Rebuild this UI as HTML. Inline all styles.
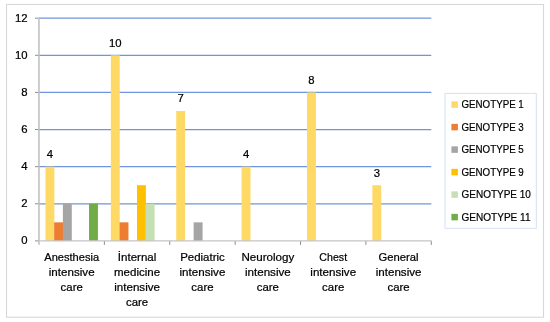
<!DOCTYPE html>
<html lang="en"><head><meta charset="utf-8"><title>Genotype distribution by intensive care unit</title>
<style>html,body{margin:0;padding:0;background:#fff}body{width:550px;height:322px;overflow:hidden}svg{display:block}text{font-family:"Liberation Sans",Arial,sans-serif;fill:#000;stroke:#000;stroke-width:0.22px}</style></head><body>
<svg width="550" height="322" viewBox="0 0 550 322">
<rect x="0" y="0" width="550" height="322" fill="#fff"/>
<rect x="6.5" y="4.5" width="537" height="312.7" fill="#fff" stroke="#d7d7d7" stroke-width="1.05"/>
<line x1="39.0" y1="203.78" x2="431.3" y2="203.78" stroke="#6f95da" stroke-width="1.2"/>
<line x1="39.0" y1="166.66" x2="431.3" y2="166.66" stroke="#6f95da" stroke-width="1.2"/>
<line x1="39.0" y1="129.54" x2="431.3" y2="129.54" stroke="#6f95da" stroke-width="1.2"/>
<line x1="39.0" y1="92.42" x2="431.3" y2="92.42" stroke="#6f95da" stroke-width="1.2"/>
<line x1="39.0" y1="55.30" x2="431.3" y2="55.30" stroke="#6f95da" stroke-width="1.2"/>
<line x1="39.0" y1="18.18" x2="431.3" y2="18.18" stroke="#6f95da" stroke-width="1.2"/>
<rect x="45.44" y="166.66" width="8.92" height="74.24" fill="#FFD966"/>
<rect x="54.16" y="222.34" width="8.92" height="18.56" fill="#ED7D31"/>
<rect x="62.87" y="203.78" width="8.92" height="37.12" fill="#A5A5A5"/>
<rect x="89.03" y="203.78" width="8.92" height="37.12" fill="#70AD47"/>
<rect x="110.82" y="55.30" width="8.92" height="185.60" fill="#FFD966"/>
<rect x="119.54" y="222.34" width="8.92" height="18.56" fill="#ED7D31"/>
<rect x="136.98" y="185.22" width="8.92" height="55.68" fill="#FFC000"/>
<rect x="145.69" y="203.78" width="8.92" height="37.12" fill="#C5E0B4"/>
<rect x="176.21" y="110.98" width="8.92" height="129.92" fill="#FFD966"/>
<rect x="193.64" y="222.34" width="8.92" height="18.56" fill="#A5A5A5"/>
<rect x="241.59" y="166.66" width="8.92" height="74.24" fill="#FFD966"/>
<rect x="306.97" y="92.42" width="8.92" height="148.48" fill="#FFD966"/>
<rect x="372.36" y="185.22" width="8.92" height="55.68" fill="#FFD966"/>
<line x1="38.95" y1="17.6" x2="38.95" y2="244.8" stroke="#bdbdbd" stroke-width="1.5"/>
<line x1="38.2" y1="240.8" x2="431.8" y2="240.8" stroke="#c4c5c9" stroke-width="1.2"/>
<line x1="35.0" y1="240.9" x2="38.2" y2="240.9" stroke="#808080" stroke-width="0.9"/>
<line x1="35.0" y1="203.78" x2="38.2" y2="203.78" stroke="#808080" stroke-width="0.9"/>
<line x1="35.0" y1="166.66" x2="38.2" y2="166.66" stroke="#808080" stroke-width="0.9"/>
<line x1="35.0" y1="129.54" x2="38.2" y2="129.54" stroke="#808080" stroke-width="0.9"/>
<line x1="35.0" y1="92.42" x2="38.2" y2="92.42" stroke="#808080" stroke-width="0.9"/>
<line x1="35.0" y1="55.30" x2="38.2" y2="55.30" stroke="#808080" stroke-width="0.9"/>
<line x1="35.0" y1="18.18" x2="38.2" y2="18.18" stroke="#808080" stroke-width="0.9"/>
<line x1="104.38" y1="241.3" x2="104.38" y2="244.9" stroke="#808080" stroke-width="0.9"/>
<line x1="169.77" y1="241.3" x2="169.77" y2="244.9" stroke="#808080" stroke-width="0.9"/>
<line x1="235.15" y1="241.3" x2="235.15" y2="244.9" stroke="#808080" stroke-width="0.9"/>
<line x1="300.53" y1="241.3" x2="300.53" y2="244.9" stroke="#808080" stroke-width="0.9"/>
<line x1="365.92" y1="241.3" x2="365.92" y2="244.9" stroke="#808080" stroke-width="0.9"/>
<line x1="431.30" y1="241.3" x2="431.30" y2="244.9" stroke="#808080" stroke-width="0.9"/>
<text x="27.5" y="244.40" font-size="10.9" text-anchor="end" textLength="6.3" lengthAdjust="spacingAndGlyphs">0</text>
<text x="27.5" y="207.28" font-size="10.9" text-anchor="end" textLength="6.3" lengthAdjust="spacingAndGlyphs">2</text>
<text x="27.5" y="170.16" font-size="10.9" text-anchor="end" textLength="6.3" lengthAdjust="spacingAndGlyphs">4</text>
<text x="27.5" y="133.04" font-size="10.9" text-anchor="end" textLength="6.3" lengthAdjust="spacingAndGlyphs">6</text>
<text x="27.5" y="95.92" font-size="10.9" text-anchor="end" textLength="6.3" lengthAdjust="spacingAndGlyphs">8</text>
<text x="27.5" y="58.80" font-size="10.9" text-anchor="end" textLength="12.6" lengthAdjust="spacingAndGlyphs">10</text>
<text x="27.5" y="21.68" font-size="10.9" text-anchor="end" textLength="12.6" lengthAdjust="spacingAndGlyphs">12</text>
<text x="49.90" y="157.96" font-size="10.9" text-anchor="middle" textLength="6.3" lengthAdjust="spacingAndGlyphs">4</text>
<text x="115.28" y="46.60" font-size="10.9" text-anchor="middle" textLength="12.6" lengthAdjust="spacingAndGlyphs">10</text>
<text x="180.66" y="102.28" font-size="10.9" text-anchor="middle" textLength="6.3" lengthAdjust="spacingAndGlyphs">7</text>
<text x="246.05" y="157.96" font-size="10.9" text-anchor="middle" textLength="6.3" lengthAdjust="spacingAndGlyphs">4</text>
<text x="311.43" y="83.72" font-size="10.9" text-anchor="middle" textLength="6.3" lengthAdjust="spacingAndGlyphs">8</text>
<text x="376.81" y="176.52" font-size="10.9" text-anchor="middle" textLength="6.3" lengthAdjust="spacingAndGlyphs">3</text>
<text x="71.69" y="260.75" font-size="11.2" text-anchor="middle" textLength="54.8" lengthAdjust="spacingAndGlyphs">Anesthesia</text>
<text x="71.69" y="275.80" font-size="11.2" text-anchor="middle" textLength="45.8" lengthAdjust="spacingAndGlyphs">intensive</text>
<text x="71.69" y="290.85" font-size="11.2" text-anchor="middle" textLength="22.2" lengthAdjust="spacingAndGlyphs">care</text>
<text x="137.08" y="260.75" font-size="11.2" text-anchor="middle" textLength="38.5" lengthAdjust="spacingAndGlyphs">İnternal</text>
<text x="137.08" y="275.80" font-size="11.2" text-anchor="middle" textLength="46.2" lengthAdjust="spacingAndGlyphs">medicine</text>
<text x="137.08" y="290.85" font-size="11.2" text-anchor="middle" textLength="45.8" lengthAdjust="spacingAndGlyphs">intensive</text>
<text x="137.08" y="305.90" font-size="11.2" text-anchor="middle" textLength="22.2" lengthAdjust="spacingAndGlyphs">care</text>
<text x="202.46" y="260.75" font-size="11.2" text-anchor="middle" textLength="44.6" lengthAdjust="spacingAndGlyphs">Pediatric</text>
<text x="202.46" y="275.80" font-size="11.2" text-anchor="middle" textLength="45.8" lengthAdjust="spacingAndGlyphs">intensive</text>
<text x="202.46" y="290.85" font-size="11.2" text-anchor="middle" textLength="22.2" lengthAdjust="spacingAndGlyphs">care</text>
<text x="267.84" y="260.75" font-size="11.2" text-anchor="middle" textLength="52.8" lengthAdjust="spacingAndGlyphs">Neurology</text>
<text x="267.84" y="275.80" font-size="11.2" text-anchor="middle" textLength="45.8" lengthAdjust="spacingAndGlyphs">intensive</text>
<text x="267.84" y="290.85" font-size="11.2" text-anchor="middle" textLength="22.2" lengthAdjust="spacingAndGlyphs">care</text>
<text x="333.23" y="260.75" font-size="11.2" text-anchor="middle" textLength="27.8" lengthAdjust="spacingAndGlyphs">Chest</text>
<text x="333.23" y="275.80" font-size="11.2" text-anchor="middle" textLength="45.8" lengthAdjust="spacingAndGlyphs">intensive</text>
<text x="333.23" y="290.85" font-size="11.2" text-anchor="middle" textLength="22.2" lengthAdjust="spacingAndGlyphs">care</text>
<text x="398.61" y="260.75" font-size="11.2" text-anchor="middle" textLength="40" lengthAdjust="spacingAndGlyphs">General</text>
<text x="398.61" y="275.80" font-size="11.2" text-anchor="middle" textLength="45.8" lengthAdjust="spacingAndGlyphs">intensive</text>
<text x="398.61" y="290.85" font-size="11.2" text-anchor="middle" textLength="22.2" lengthAdjust="spacingAndGlyphs">care</text>
<rect x="445" y="93.4" width="91.3" height="134.9" fill="#fff" stroke="#d6dff3" stroke-width="1"/>
<rect x="451.4" y="101.35" width="6.5" height="6.5" fill="#FFD966"/>
<text x="461.5" y="108.25" font-size="11.2" textLength="62.3" lengthAdjust="spacingAndGlyphs">GENOTYPE 1</text>
<rect x="451.4" y="123.85" width="6.5" height="6.5" fill="#ED7D31"/>
<text x="461.5" y="130.75" font-size="11.2" textLength="62.3" lengthAdjust="spacingAndGlyphs">GENOTYPE 3</text>
<rect x="451.4" y="146.35" width="6.5" height="6.5" fill="#A5A5A5"/>
<text x="461.5" y="153.25" font-size="11.2" textLength="62.3" lengthAdjust="spacingAndGlyphs">GENOTYPE 5</text>
<rect x="451.4" y="168.85" width="6.5" height="6.5" fill="#FFC000"/>
<text x="461.5" y="175.75" font-size="11.2" textLength="62.3" lengthAdjust="spacingAndGlyphs">GENOTYPE 9</text>
<rect x="451.4" y="191.35" width="6.5" height="6.5" fill="#C5E0B4"/>
<text x="461.5" y="198.25" font-size="11.2" textLength="69.4" lengthAdjust="spacingAndGlyphs">GENOTYPE 10</text>
<rect x="451.4" y="213.85" width="6.5" height="6.5" fill="#70AD47"/>
<text x="461.5" y="220.75" font-size="11.2" textLength="69.0" lengthAdjust="spacingAndGlyphs">GENOTYPE 11</text>
</svg></body></html>
